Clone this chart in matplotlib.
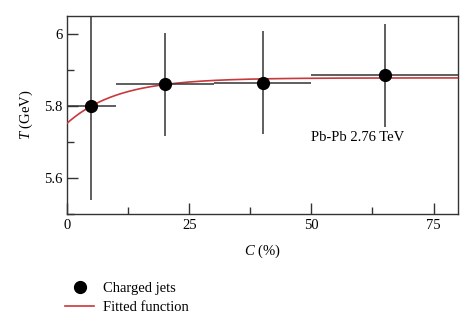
import numpy as np
import matplotlib
matplotlib.use("Agg")
import matplotlib.pyplot as plt
from matplotlib.ticker import MultipleLocator
from matplotlib.lines import Line2D

plt.rcParams['font.family'] = ['Liberation Serif', 'DejaVu Serif']
plt.rcParams['mathtext.fontset'] = 'custom'
plt.rcParams['mathtext.it'] = 'Liberation Serif:italic'
plt.rcParams['mathtext.rm'] = 'Liberation Serif'

# centrality bins and charged-jet temperatures
centrality = [5, 20, 40, 65]
bin_low = [0, 10, 30, 50]
bin_high = [10, 30, 50, 80]
temperature = [5.80, 5.86, 5.865, 5.885]
temp_err = [0.26, 0.143, 0.143, 0.143]

# fitted function T(C) = a - b * exp(-C / c)
fit_a, fit_b, fit_c = 5.878, 0.126, 10.4

fig = plt.figure(figsize=(4.74, 3.31), dpi=100)
ax = fig.add_axes([0.1414, 0.3535, 0.8248, 0.5982])

xerr = [np.array(centrality) - np.array(bin_low),
        np.array(bin_high) - np.array(centrality)]

cc = np.linspace(0, 80, 400)
ax.plot(cc, fit_a - fit_b * np.exp(-cc / fit_c), color='#c8383c', lw=1.2, zorder=3)

ax.errorbar(centrality, temperature, yerr=temp_err, xerr=xerr, fmt='o',
            color='black', ecolor='#333333', elinewidth=1.1, capsize=0,
            markersize=8.5, zorder=4)

ax.set_xlim(0, 80)
ax.set_ylim(5.5, 6.05)
ax.xaxis.set_major_locator(MultipleLocator(25))
ax.xaxis.set_minor_locator(MultipleLocator(12.5))
ax.yaxis.set_minor_locator(MultipleLocator(0.1))
ax.set_yticks([5.6, 5.8, 6.0])
ax.set_yticklabels(['5.6', '5.8', '6'])
ax.tick_params(which='both', direction='in', top=False, right=False,
               labelsize=10.5, color='#333333')
ax.tick_params(which='major', length=8, width=1)
ax.tick_params(which='minor', length=5, width=1)
for s in ax.spines.values():
    s.set_color('#333333')
    s.set_linewidth(1)

ax.set_xlabel(r'$C$ (%)', fontsize=10.5, labelpad=8)
ax.set_ylabel(r'$T$ (GeV)', fontsize=10.5, labelpad=6)

ax.text(50, 5.712, 'Pb-Pb 2.76 TeV', fontsize=10.5, ha='left', va='center')

handles = [Line2D([], [], marker='o', color='black', ls='none', markersize=8.5),
           Line2D([], [], color='#c8383c', lw=1.2)]
fig.legend(handles, ['Charged jets', 'Fitted function'], loc='upper left',
           bbox_to_anchor=(0.125, 0.165), frameon=False, fontsize=10.5,
           handlelength=2.0, handletextpad=0.6, labelspacing=0.35,
           borderaxespad=0)

fig.savefig('out.png', dpi=100)
